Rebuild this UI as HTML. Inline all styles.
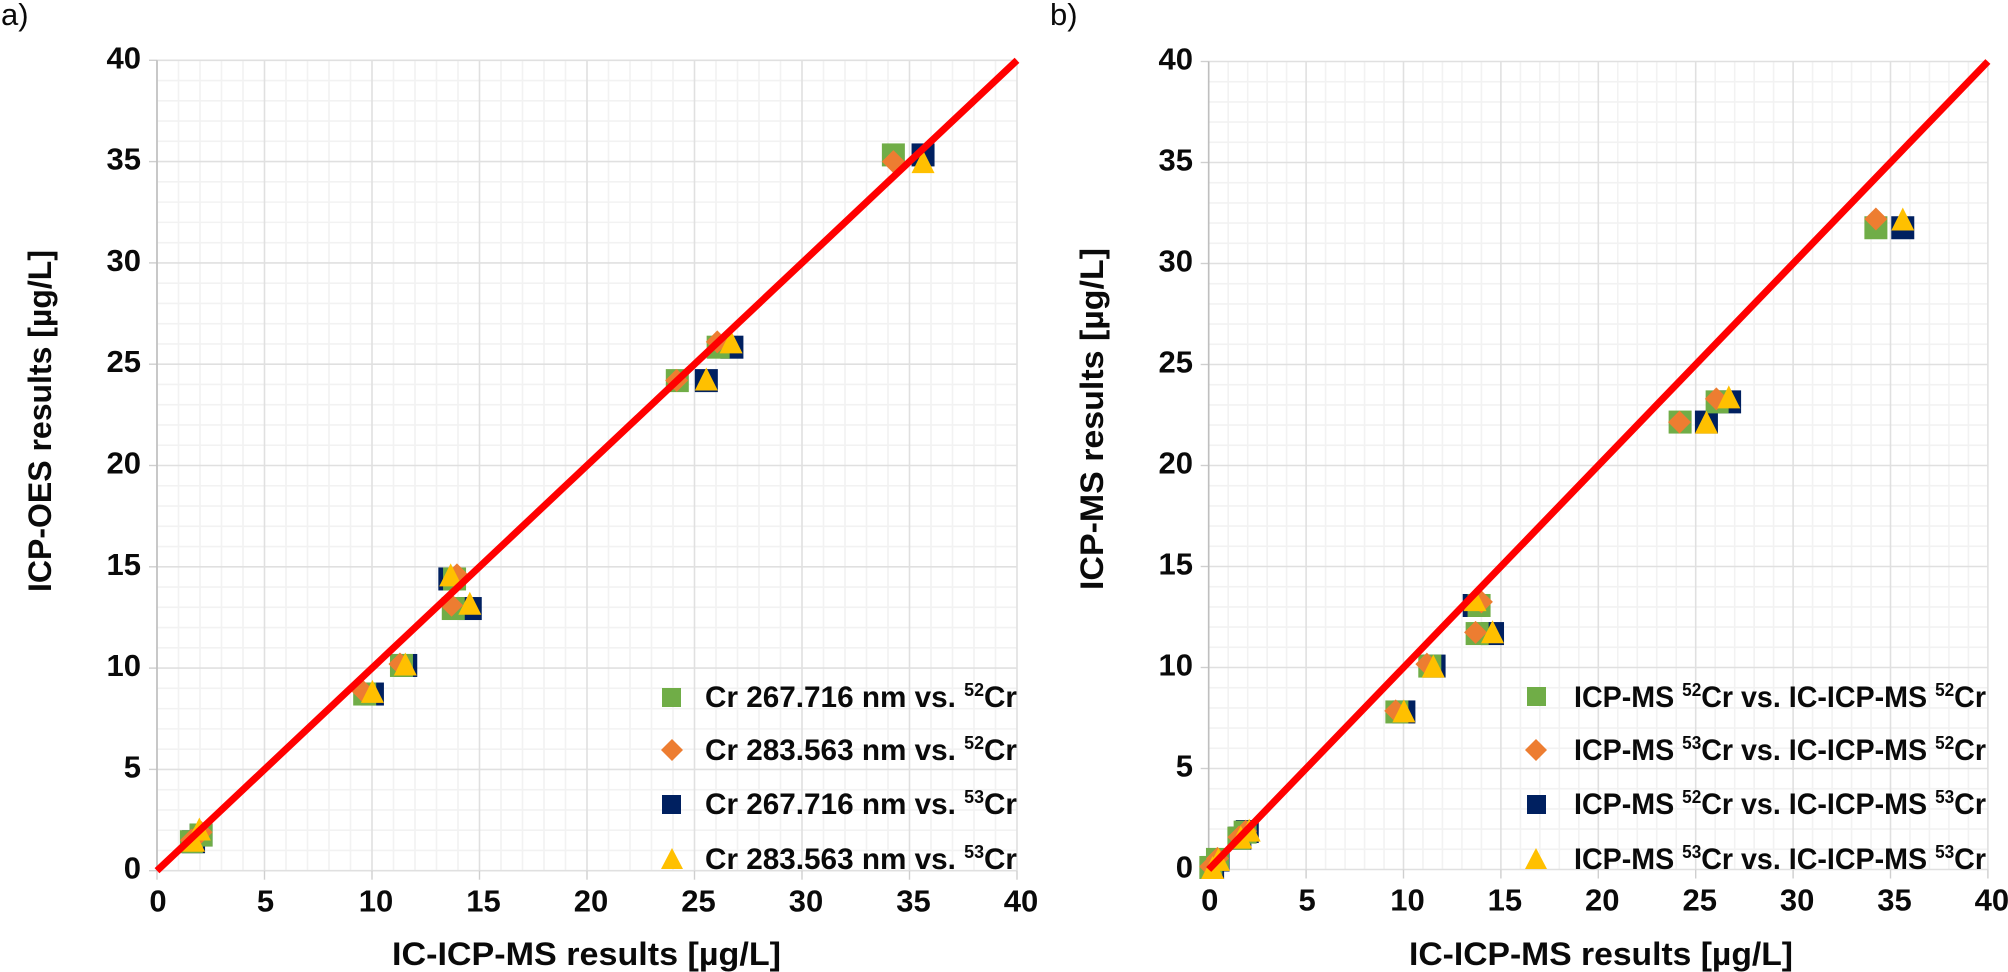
<!DOCTYPE html>
<html lang="en">
<head>
<meta charset="utf-8">
<title>ICP results comparison</title>
<style>
html,body{margin:0;padding:0;background:#fff;width:2008px;height:972px;overflow:hidden}
svg{display:block}
text{font-family:"Liberation Sans",sans-serif;fill:#0a0a0a}
.t{font-weight:700}
.leg{font-weight:700;font-size:30px}
.title{font-weight:700;font-size:32px}
.sup{font-size:18px}
</style>
</head>
<body>
<svg id="fig" width="2008" height="972" viewBox="0 0 2008 972" xmlns="http://www.w3.org/2000/svg">
  <g id="panelA"></g>
  <g id="panelB"></g>

  <text x="1" y="25" font-size="31">a)</text>
  <text x="1050" y="25" font-size="31">b)</text>

  <text class="title" x="392" y="965" textLength="389" lengthAdjust="spacingAndGlyphs">IC-ICP-MS results [µg/L]</text>
  <text class="title" transform="translate(51,592) rotate(-90)" textLength="342" lengthAdjust="spacingAndGlyphs">ICP-OES results [µg/L]</text>
  <text class="title" x="1409" y="965" textLength="384" lengthAdjust="spacingAndGlyphs">IC-ICP-MS results [µg/L]</text>
  <text class="title" transform="translate(1103,590) rotate(-90)" textLength="342" lengthAdjust="spacingAndGlyphs">ICP-MS results [µg/L]</text>

  <g>
    <rect x="662" y="688" width="19" height="19" fill="#70ad47"/>
    <polygon points="672,739 683,750 672,761 661,750" fill="#ed7d31"/>
    <rect x="662" y="795" width="19" height="19" fill="#002060"/>
    <polygon points="672,848 683,869 661,869" fill="#ffc000"/>
    <text class="leg" x="705" y="707" textLength="312" lengthAdjust="spacingAndGlyphs">Cr 267.716 nm vs. <tspan class="sup" dy="-11">52</tspan><tspan dy="11">Cr</tspan></text>
    <text class="leg" x="705" y="760" textLength="312" lengthAdjust="spacingAndGlyphs">Cr 283.563 nm vs. <tspan class="sup" dy="-11">52</tspan><tspan dy="11">Cr</tspan></text>
    <text class="leg" x="705" y="814" textLength="312" lengthAdjust="spacingAndGlyphs">Cr 267.716 nm vs. <tspan class="sup" dy="-11">53</tspan><tspan dy="11">Cr</tspan></text>
    <text class="leg" x="705" y="869" textLength="312" lengthAdjust="spacingAndGlyphs">Cr 283.563 nm vs. <tspan class="sup" dy="-11">53</tspan><tspan dy="11">Cr</tspan></text>
  </g>

  <g>
    <rect x="1527" y="687" width="19" height="19" fill="#70ad47"/>
    <polygon points="1536,739 1547,750 1536,761 1525,750" fill="#ed7d31"/>
    <rect x="1527" y="795" width="19" height="19" fill="#002060"/>
    <polygon points="1536,848 1547,869 1525,869" fill="#ffc000"/>
    <text class="leg" x="1574" y="707" textLength="412" lengthAdjust="spacingAndGlyphs">ICP-MS <tspan class="sup" dy="-11">52</tspan><tspan dy="11">Cr vs. IC-ICP-MS </tspan><tspan class="sup" dy="-11">52</tspan><tspan dy="11">Cr</tspan></text>
    <text class="leg" x="1574" y="760" textLength="412" lengthAdjust="spacingAndGlyphs">ICP-MS <tspan class="sup" dy="-11">53</tspan><tspan dy="11">Cr vs. IC-ICP-MS </tspan><tspan class="sup" dy="-11">52</tspan><tspan dy="11">Cr</tspan></text>
    <text class="leg" x="1574" y="814" textLength="412" lengthAdjust="spacingAndGlyphs">ICP-MS <tspan class="sup" dy="-11">52</tspan><tspan dy="11">Cr vs. IC-ICP-MS </tspan><tspan class="sup" dy="-11">53</tspan><tspan dy="11">Cr</tspan></text>
    <text class="leg" x="1574" y="869" textLength="412" lengthAdjust="spacingAndGlyphs">ICP-MS <tspan class="sup" dy="-11">53</tspan><tspan dy="11">Cr vs. IC-ICP-MS </tspan><tspan class="sup" dy="-11">53</tspan><tspan dy="11">Cr</tspan></text>
  </g>
</svg>

<script>
// Tick labels shared by both panels
const tickLabels = [0, 5, 10, 15, 20, 25, 30, 35, 40];
// 1:1 reference line endpoints
const referenceLine = [0, 40];

// Panel a) values
const aGreenX  = [1.6, 2.05, 9.66, 11.37, 13.84, 13.78, 24.2, 26.1, 34.25];
const aGreenY  = [1.43, 1.76, 8.72, 10.13, 14.4, 12.94, 24.19, 25.84, 35.33];
const aOrangeX = [1.6, 2.05, 9.6, 11.3, 13.95, 13.7, 24.17, 26.06, 34.25];
const aOrangeY = [1.5, 1.9, 8.83, 10.2, 14.6, 13.1, 24.2, 26.1, 35.0];
const aNavyX   = [1.7, 2.05, 10.02, 11.57, 13.62, 14.57, 25.55, 26.74, 35.63];
const aNavyY   = [1.43, 1.76, 8.72, 10.13, 14.4, 12.94, 24.19, 25.84, 35.33];
const aYellowX = [1.7, 1.97, 10.02, 11.55, 13.66, 14.55, 25.55, 26.7, 35.63];
const aYellowY = [1.5, 2.06, 8.85, 10.2, 14.6, 13.2, 24.27, 26.1, 35.0];

// Panel b) values
const bGreenX  = [0.11, 0.45, 1.55, 1.87, 9.66, 11.35, 13.88, 13.78, 24.2, 26.1, 34.25];
const bGreenY  = [0.1, 0.5, 1.55, 1.85, 7.8, 10.07, 13.07, 11.68, 22.15, 23.15, 31.77];
const bOrangeX = [0.1, 0.45, 1.55, 1.9, 9.6, 11.2, 14.0, 13.7, 24.17, 26.06, 34.25];
const bOrangeY = [0.15, 0.55, 1.6, 1.9, 7.85, 10.17, 13.25, 11.74, 22.15, 23.3, 32.2];
const bNavyX   = [0.2, 0.48, 1.6, 1.98, 10.02, 11.57, 13.63, 14.57, 25.55, 26.74, 35.63];
const bNavyY   = [0.1, 0.47, 1.55, 1.88, 7.8, 10.07, 13.07, 11.68, 22.15, 23.15, 31.77];
const bYellowX = [0.2, 0.5, 1.65, 2.08, 10.02, 11.53, 13.67, 14.57, 25.55, 26.7, 35.63];
const bYellowY = [0.1, 0.5, 1.6, 1.95, 7.85, 10.07, 13.36, 11.77, 22.15, 23.4, 32.2];

const SVGNS = 'http://www.w3.org/2000/svg';
const GREEN = '#70ad47', ORANGE = '#ed7d31', NAVY = '#002060', YELLOW = '#ffc000';

function line(parent, x1, y1, x2, y2, stroke, width) {
  const el = document.createElementNS(SVGNS, 'line');
  el.setAttribute('x1', x1);
  el.setAttribute('y1', y1);
  el.setAttribute('x2', x2);
  el.setAttribute('y2', y2);
  el.setAttribute('stroke', stroke);
  el.setAttribute('stroke-width', width);
  parent.appendChild(el);
  return el;
}

function tickText(parent, x, y, anchor, str) {
  const el = document.createElementNS(SVGNS, 'text');
  el.setAttribute('class', 't');
  el.setAttribute('x', x);
  el.setAttribute('y', y);
  el.setAttribute('font-size', '31');
  el.setAttribute('text-anchor', anchor);
  el.textContent = str;
  parent.appendChild(el);
  return el;
}

function drawAxes(root, prefix, xs, ys, labelRight) {
  for (let i = 0; i <= 40; i++) {
    const major = i % 5 === 0;
    if (major) continue;
    const v = line(root, xs(i), ys(0), xs(i), ys(40), '#f2f2f2', 1.6);
    
    
    const h = line(root, xs(0), ys(i), xs(40), ys(i), '#f2f2f2', 1.6);
    
    
  }
  tickLabels.forEach(function (t) {
    const v = line(root, xs(t), ys(0), xs(t), ys(40), '#e0e0e0', 1.6);
    
    
    const h = line(root, xs(0), ys(t), xs(40), ys(t), '#e0e0e0', 1.6);
    
    
    const yt = line(root, xs(0) - 8, ys(t), xs(0), ys(t), '#cfcfcf', 1.4);
    
    
    const xt = line(root, xs(t), ys(0), xs(t), ys(0) + 9, '#cfcfcf', 1.4);
    
    
    const yl = tickText(root, labelRight, ys(t) + 8, 'end', String(t));
    
    
    const xl = tickText(root, xs(t) + (t < 10 ? 1 : 4), ys(0) + 41, 'middle', String(t));
    
    
  });
  const ay = line(root, xs(0), ys(0), xs(0), ys(40), '#bfbfbf', 1.6);
  
  
}

function squares(root, xv, yv, xs, ys, fill, name) {
  xv.forEach(function (x, i) {
    const el = document.createElementNS(SVGNS, 'rect');
    el.setAttribute('x', xs(x) - 11.5);
    el.setAttribute('y', ys(yv[i]) - 11.5);
    el.setAttribute('width', 23);
    el.setAttribute('height', 23);
    el.setAttribute('fill', fill);
    
    
    root.appendChild(el);
  });
}

function diamonds(root, xv, yv, xs, ys, fill, name) {
  xv.forEach(function (x, i) {
    const cx = xs(x), cy = ys(yv[i]), r = 11.5;
    const el = document.createElementNS(SVGNS, 'polygon');
    el.setAttribute('points', [cx, cy - r, cx + r, cy, cx, cy + r, cx - r, cy].join(' '));
    el.setAttribute('fill', fill);
    
    
    root.appendChild(el);
  });
}

function triangles(root, xv, yv, xs, ys, fill, name) {
  xv.forEach(function (x, i) {
    const cx = xs(x), cy = ys(yv[i]), r = 11.5;
    const el = document.createElementNS(SVGNS, 'polygon');
    el.setAttribute('points', [cx, cy - r, cx + r, cy + r, cx - r, cy + r].join(' '));
    el.setAttribute('fill', fill);
    
    
    root.appendChild(el);
  });
}

function drawPanel(root, prefix, xs, ys, labelRight, gx, gy, ox, oy, nx, ny, tx, ty) {
  drawAxes(root, prefix, xs, ys, labelRight);
  squares(root, nx, ny, xs, ys, NAVY, prefix + '-navy-square-point');
  squares(root, gx, gy, xs, ys, GREEN, prefix + '-green-square-point');
  diamonds(root, ox, oy, xs, ys, ORANGE, prefix + '-orange-diamond-point');
  triangles(root, tx, ty, xs, ys, YELLOW, prefix + '-yellow-triangle-point');
  const r = line(root, xs(referenceLine[0]), ys(referenceLine[0]), xs(referenceLine[1]), ys(referenceLine[1]), '#ff0000', 7);
  
  
}

const xA = function (v) { return 157 + v * 21.5; };
const yA = function (v) { return 870.7 - v * 20.26; };
const xB = function (v) { return 1208.7 + v * 19.48; };
const yB = function (v) { return 869.5 - v * 20.2; };

drawPanel(document.getElementById('panelA'), 'panel-a', xA, yA, 141,
  aGreenX, aGreenY, aOrangeX, aOrangeY, aNavyX, aNavyY, aYellowX, aYellowY);
drawPanel(document.getElementById('panelB'), 'panel-b', xB, yB, 1193,
  bGreenX, bGreenY, bOrangeX, bOrangeY, bNavyX, bNavyY, bYellowX, bYellowY);
</script>
</body>
</html>
